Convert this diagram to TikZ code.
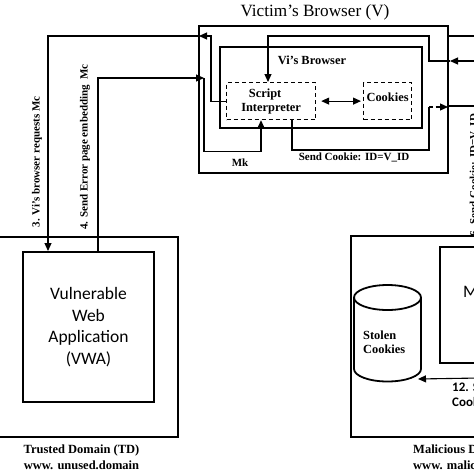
\documentclass[tikz,border=0pt]{standalone}
\usepackage{fontspec}
\setmainfont{Liberation Serif}
\newfontfamily\calib{Carlito}
\usetikzlibrary{arrows.meta,calc}
\begin{document}
\begin{tikzpicture}[x=1pt,y=-1pt,
 thickbox/.style={draw, line width=2pt, inner sep=0pt, anchor=north west},
 dashbox/.style={draw, line width=1.2pt, dash pattern=on 4pt off 3pt, inner sep=0pt, anchor=north west},
 conn/.style={line width=1.1pt},
 tip/.style={-{Triangle[length=8pt,width=7pt]}},
 lbl/.style={font=\fontsize{12.4}{14}\selectfont\bfseries, inner sep=0pt},
 slbl/.style={font=\fontsize{11}{13}\selectfont\bfseries, inner sep=0pt},
]
\useasboundingbox (0,0) rectangle (474,474);
\begin{scope}
\clip (0,0) rectangle (474,474);
\fill[white] (0,0) rectangle (474,474);
% boxes
\node[thickbox, minimum width=249pt, minimum height=147pt] (V) at (198,25) {};
\node[thickbox, minimum width=202pt, minimum height=81pt] (VB) at (219,46) {};
\node[dashbox, minimum width=89pt, minimum height=37pt, lbl, align=center] (SI) at (226,82) {Script\hspace*{12pt}\\Interpreter};
\node[dashbox, minimum width=48pt, minimum height=37pt] (CK) at (363,82) {};
\node[lbl] (CKt) at ($(CK.center)+(0,-4)$) {Cookies};
\node[thickbox, minimum width=187pt, minimum height=200pt] (TD) at (-10,236) {};
\node[thickbox, minimum width=131pt, minimum height=150pt, font=\calib\fontsize{17.5}{21.6}\selectfont, align=center] (VWA) at (22,251) {Vulnerable\\Web\\Application\\(VWA)};
\node[thickbox, minimum width=150pt, minimum height=201pt] (MD) at (350,235) {};
\node[thickbox, minimum width=60pt, minimum height=116pt] (MW) at (439,246) {};
\node[font=\calib\fontsize{17.5}{20}\selectfont, anchor=west, inner sep=0pt] (MWt) at (463,292) {M};
% cylinder
\draw[line width=1.8pt] (354,297.5) -- (354,369) arc[start angle=180, end angle=360, x radius=33.5pt, y radius=12.5pt] -- (421,297.5);
\draw[line width=1.8pt] (387.5,297.5) ellipse [x radius=33.5pt, y radius=12.5pt];
\node[lbl, align=left, anchor=west] (SC) at (363,342) {Stolen\\Cookies};
\coordinate (p12) at (418,379);
% titles
\node[font=\fontsize{17.2}{20}\selectfont, inner sep=0pt] (title) at (315,12) {Victim’s Browser (V)};
\node[lbl] (vbt) at (312,60) {Vi’s Browser};
% connector 3
\coordinate (p3) at (199,36);
\draw[conn,tip] (SI.west) -| (211,36) -- (p3);
\draw[conn,tip] (p3) -| ($(VWA.north west)+(26,0)$);
\node[slbl, rotate=90] (l3) at (37,162) {3. Vi’s browser requests Mc};
% connector 4
\coordinate (p4) at (204,78);
\draw[conn,tip] ($(VWA.north west)+(76,0)$) |- (p4);
\draw[conn,tip] (p4) |- ($(SI.south west)+(35,31)$) -- ($(SI.south west)+(35,0)$);
\node[slbl, rotate=90] (l4) at (85,147) {4. Send Error page embedding\ \ Mc};
\node[slbl] (mk) at (240,163) {Mk};
% right-side input
\coordinate (p5) at (450,61);
\draw[conn,tip] (480,61) -- (p5);
\draw[conn,tip] (p5) -| (429,36) -| ($(SI.north west)+(42,0)$);
% send cookie
\draw[conn] ($(SI.south west)+(66,0)$) |- (429,150) -- (429,107);
\draw[conn,tip,dash pattern=on 4pt off 2.5pt] (429,107) -- (448,107);
\draw[conn] (448,106) -- (480,106);
\node[slbl] (sc) at (354,157) {Send Cookie: ID=V\_ID};
% top right line
\draw[conn] (V.east |- 0,36) -- (480,36);
% double arrow
\draw[conn,{Triangle[length=8pt,width=7pt]}-{Triangle[length=8pt,width=7pt]}, shorten <=5pt, shorten >=2pt] (SI.east) -- (CK.west);
% arrow 12
\draw[conn,tip] (480,378) -- (p12);
\node[font=\calib\bfseries\fontsize{13}{15}\selectfont, anchor=west, align=left, inner sep=0pt] (l12) at (452,394.5) {12. S\\Cook};
% right-edge rotated label (mostly outside the picture)
\node[slbl, rotate=90, anchor=north] (lr) at (469.5,175) {6. Send Cookie: ID=V\_ID};
% domain labels
\node[lbl, align=center, font=\fontsize{12.5}{16}\selectfont\bfseries] (tdl) at (81.5,457) {Trusted Domain (TD)\\www. unused.domain};
\node[lbl, align=left, anchor=west, font=\fontsize{12.5}{16}\selectfont\bfseries] (mdl) at (413,457) {Malicious D\\www. malic};
\end{scope}
\end{tikzpicture}
\end{document}
